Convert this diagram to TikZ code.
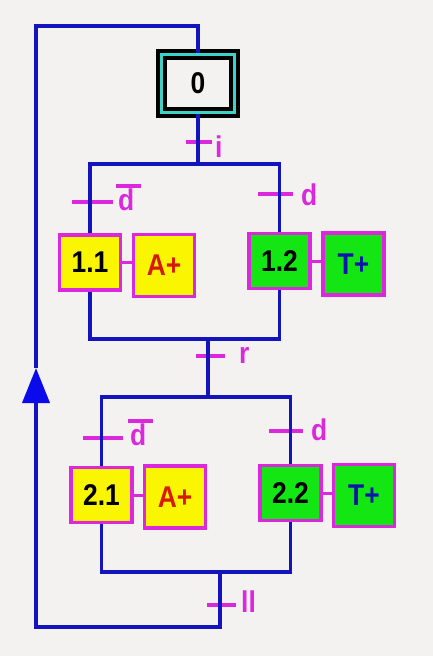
\documentclass[tikz,border=0pt]{standalone}
\usepackage{fontspec}
\setmainfont{Liberation Sans}
\newfontfamily\graffont[FakeStretch=0.88]{Liberation Sans}
\usepackage{xcolor}
\definecolor{grafblue}{RGB}{20,20,190}
\definecolor{arrowblue}{RGB}{10,10,235}
\definecolor{grafmag}{RGB}{220,40,220}
\definecolor{stepyellow}{RGB}{250,245,0}
\definecolor{stepgreen}{RGB}{20,230,20}
\definecolor{actred}{RGB}{215,25,10}
\definecolor{actblue}{RGB}{10,20,170}
\definecolor{initcyan}{RGB}{60,210,200}
\definecolor{paper}{RGB}{244,242,241}
\usetikzlibrary{arrows.meta}
\newcommand{\negd}{\leavevmode\rlap{\hspace{-2pt}\raisebox{22.5pt}{\rule{25pt}{4pt}}}d}

\begin{document}
\begin{tikzpicture}[x=1pt, y=-1pt,
  grafcet/.style={font=\graffont\fontsize{30}{30}\selectfont\bfseries},
  wire/.style={draw=grafblue, line width=3.8pt},
  initstep/.style={grafcet, draw=black, line width=3.7pt, double=initcyan, double distance=3.5pt, fill=paper, minimum width=73pt, minimum height=58pt, inner sep=0pt},
  stepbox/.style={grafcet, draw=grafmag, line width=3.5pt, minimum width=61pt, minimum height=55pt, inner sep=0pt},
  actbox/.style={grafcet, draw=grafmag, line width=3.5pt, minimum width=61pt, minimum height=62pt, inner sep=0pt},
  trans/.style={fill=grafmag, minimum height=3.5pt, inner sep=0pt},
  cond/.style={grafcet, text=grafmag, inner sep=0pt, anchor=base west},
  actlink/.style={draw=grafmag, line width=3pt}
]
  \fill[paper] (0,0) rectangle (433,656);
  \useasboundingbox (0,0) rectangle (433,656);

  % steps
  \node[initstep] (s0) at (198,83.5) {0};
  \node[stepbox, fill=stepyellow] (s11) at (90,262.5) {1.1};
  \node[stepbox, fill=stepgreen] (s12) at (279.5,261) {1.2};
  \node[stepbox, fill=stepyellow] (s21) at (101.5,495) {2.1};
  \node[stepbox, fill=stepgreen] (s22) at (290.5,493) {2.2};

  % actions
  \node[actbox, fill=stepyellow, text=actred] (a11) at (164,265.5) {A+};
  \node[actbox, fill=stepgreen, text=actblue] (a12) at (353.5,264) {T+};
  \node[actbox, fill=stepyellow, text=actred] (a21) at (175,497) {A+};
  \node[actbox, fill=stepgreen, text=actblue] (a22) at (364,495.5) {T+};
  \draw[actlink] (s11.east) -- (s11.east -| a11.west);
  \draw[actlink] (s12.east) -- (s12.east -| a12.west);
  \draw[actlink] (s21.east) -- (s21.east -| a21.west);
  \draw[actlink] (s22.east) -- (s22.east -| a22.west);

  % transitions
  \node[trans, minimum width=26pt] (ti) at (199,142) {};
  \node[trans, minimum width=41pt] (tnd1) at (92.5,202) {};
  \node[trans, minimum width=35pt] (td1) at (275.5,194) {};
  \node[trans, minimum width=29pt] (tr) at (210.5,356) {};
  \node[trans, minimum width=40pt] (tnd2) at (103,438) {};
  \node[trans, minimum width=34pt] (td2) at (286,431) {};
  \node[trans, minimum width=29pt] (tll) at (221.5,605) {};

  \node[cond] (ci) at (215,157) {i};
  \node[cond] (cnd1) at (118,210) {\negd};
  \node[cond] (cd1) at (301,205) {d};
  \node[cond] (cr) at (239,363) {r};
  \node[cond] (cnd2) at (130,445) {\negd};
  \node[cond] (cd2) at (311,440) {d};
  \node[cond] (cll) at (241,612) {ll};

  % links
  \coordinate (j1) at (198,164);
  \coordinate (m1) at (208,339);
  \coordinate (j2) at (208,397);
  \coordinate (m2) at (220,572);
  \coordinate (loopbot) at (36,627);
  \coordinate (arrowtip) at (36,368);
  \coordinate (looptop) at (36,26);

  \draw[wire] (s0.south) -- (j1);
  \draw[wire] (s11.north) |- (j1) -| (s12.north);
  \draw[wire] (s11.south) |- (m1) -| (s12.south);
  \draw[wire] (m1) -- (j2);
  \draw[wire] (s21.north) |- (j2) -| (s22.north);
  \draw[wire] (s21.south) |- (m2) -| (s22.south);
  \draw[wire, -{Triangle[width=27pt, length=35pt, color=arrowblue]}] (m2) |- (loopbot) -- (arrowtip);
  \draw[wire] (arrowtip) -- (looptop) -| (s0.north);
\end{tikzpicture}
\end{document}
